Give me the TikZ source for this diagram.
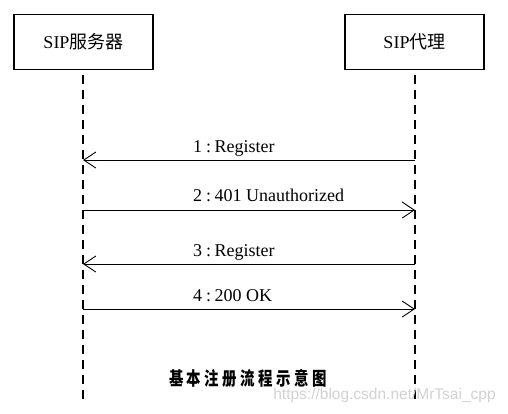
\documentclass[tikz,border=0pt]{standalone}
\usepackage{fontspec}
\setmainfont{Liberation Serif}
\newfontfamily\cjk{Noto Sans CJK SC}
\newfontfamily\capfont{Noto Sans CJK SC}[FakeStretch=0.78]
\newfontfamily\wmfont{Liberation Sans}
\usetikzlibrary{arrows.meta}
\begin{document}
\begin{tikzpicture}[x=1pt,y=-1pt,
  actor/.style={draw, line width=1.6pt, minimum width=139pt, minimum height=55pt, inner sep=0pt, font=\fontsize{18}{20}\selectfont},
  lifeline/.style={line width=1.1pt, dash pattern=on 9pt off 6pt, dash phase=-5pt},
  msg/.style={line width=0.9pt, -{Straight Barb[length=12pt,width=16pt,line width=0.9pt]}},
  msglabel/.style={anchor=base west, inner sep=0pt, font=\fontsize{18}{20}\selectfont},
  caption/.style={inner sep=0pt, font=\capfont\bfseries\fontsize{18.5}{20}\selectfont},
  watermark/.style={anchor=base, inner sep=0pt, text=black!18, font=\wmfont\fontsize{15.5}{18}\selectfont}]
\useasboundingbox (0,0) rectangle (508,413);
\node[actor] (srv) at (83.5,42) {SIP{\cjk 服务器}};
\node[actor] (prx) at (414.5,42) {SIP{\cjk 代理}};
\coordinate (srvend) at (83,400);
\coordinate (prxend) at (415,400);
\draw[lifeline] (srv.south -| srvend) -- (srvend);
\draw[lifeline] (prx.south -| prxend) -- (prxend);
\coordinate (r1) at (415,160); \coordinate (l1) at (83,160);
\coordinate (r2) at (415,210); \coordinate (l2) at (83,210);
\coordinate (r3) at (415,264); \coordinate (l3) at (83,264);
\coordinate (r4) at (415,309); \coordinate (l4) at (83,309);
\draw[msg] (r1) -- (l1);
\draw[msg] (l2) -- (r2);
\draw[msg] (r3) -- (l3);
\draw[msg] (l4) -- (r4);
\node[msglabel] (t1) at (193,152) {1\kern4pt:\kern3.5pt Register};
\node[msglabel] (t2) at (193,201) {2\kern4pt:\kern3.5pt 401 Unauthorized};
\node[msglabel] (t3) at (193,256) {3\kern4pt:\kern3.5pt Register};
\node[msglabel] (t4) at (193,301) {4\kern4pt:\kern3.5pt 200 OK};
\node[caption] (cap) at (248,378.5) {基\kern3.5pt 本\kern3.5pt 注\kern3.5pt 册\kern3.5pt 流\kern3.5pt 程\kern3.5pt 示\kern3.5pt 意\kern3.5pt 图};
\node[watermark] (wm) at (384.5,399) {https://blog.csdn.net/MrTsai\_cpp};
\end{tikzpicture}
\end{document}
